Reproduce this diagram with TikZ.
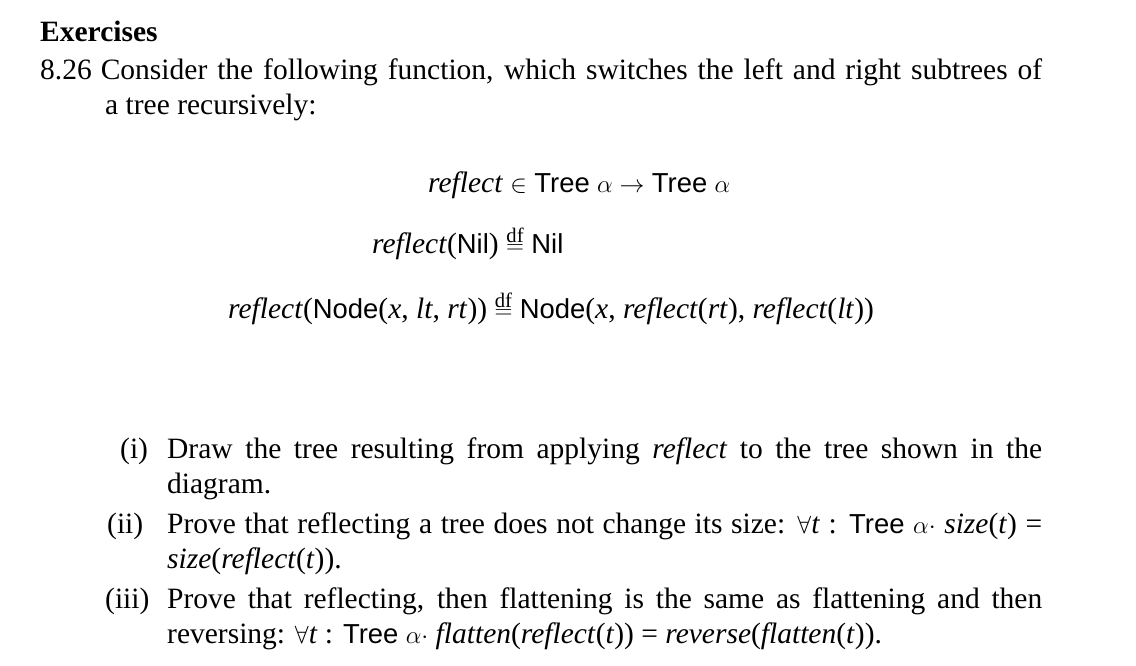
\documentclass[tikz,border=0pt]{standalone}
\usepackage{fontspec}
\setmainfont{Liberation Serif}
\setsansfont{Liberation Sans}[Scale=0.93]
\newcommand{\sfx}[1]{\textsf{#1}}
\newcommand{\iv}[1]{\textit{#1}}
\newcommand{\dfeq}{\ $\stackrel{\mathrm{df}}{=}$\ }
\begin{document}
\begin{tikzpicture}[x=1pt,y=-1pt,every node/.style={inner sep=0pt,anchor=base west,font=\fontsize{29.5}{34}\selectfont}]
\useasboundingbox (0,0) rectangle (1136,666);
\node (h) at (40,42) {\textbf{Exercises}};
\node (a1) at (40,80) {\hbox to 1002pt{8.26\hspace{9pt}Consider the following function, which switches the left and right subtrees of}};
\node (a2) at (105,115) {a tree recursively:};
\node (e1) at (428,193) {\iv{reflect} $\in$ \sfx{Tree} $\alpha\rightarrow$ \sfx{Tree} $\alpha$};
\node (e2) at (372,253) {\iv{reflect}(\sfx{Nil})\dfeq\sfx{Nil}};
\node (e3) at (228,318) {\iv{reflect}(\sfx{Node}(\iv{x}, \iv{lt}, \iv{rt}))\dfeq\sfx{Node}(\iv{x}, \iv{reflect}(\iv{rt}),\ \iv{reflect}(\iv{lt}))};
\node (i1) at (120,458) {(i)};
\node (i1t) at (167,458) {\hbox to 875pt{Draw the tree resulting from applying \iv{reflect} to the tree shown in the}};
\node (i2) at (167,493) {diagram.};
\node (ii1) at (107,533) {(ii)};
\node (ii1t) at (167,533) {\hbox to 875pt{Prove that reflecting a tree does not change its size: $\forall$\iv{t} : \sfx{Tree} $\alpha\cdot$ \iv{size}(\iv{t}) =}};
\node (ii2) at (167,568) {\iv{size}(\iv{reflect}(\iv{t})).};
\node (iii1) at (105,608) {(iii)};
\node (iii1t) at (167,608) {\hbox to 875pt{Prove that reflecting, then flattening is the same as flattening and then}};
\node (iii2) at (167,643) {reversing: $\forall$\iv{t} : \sfx{Tree} $\alpha\cdot$ \iv{flatten}(\iv{reflect}(\iv{t})) = \iv{reverse}(\iv{flatten}(\iv{t})).};
\end{tikzpicture}
\end{document}
